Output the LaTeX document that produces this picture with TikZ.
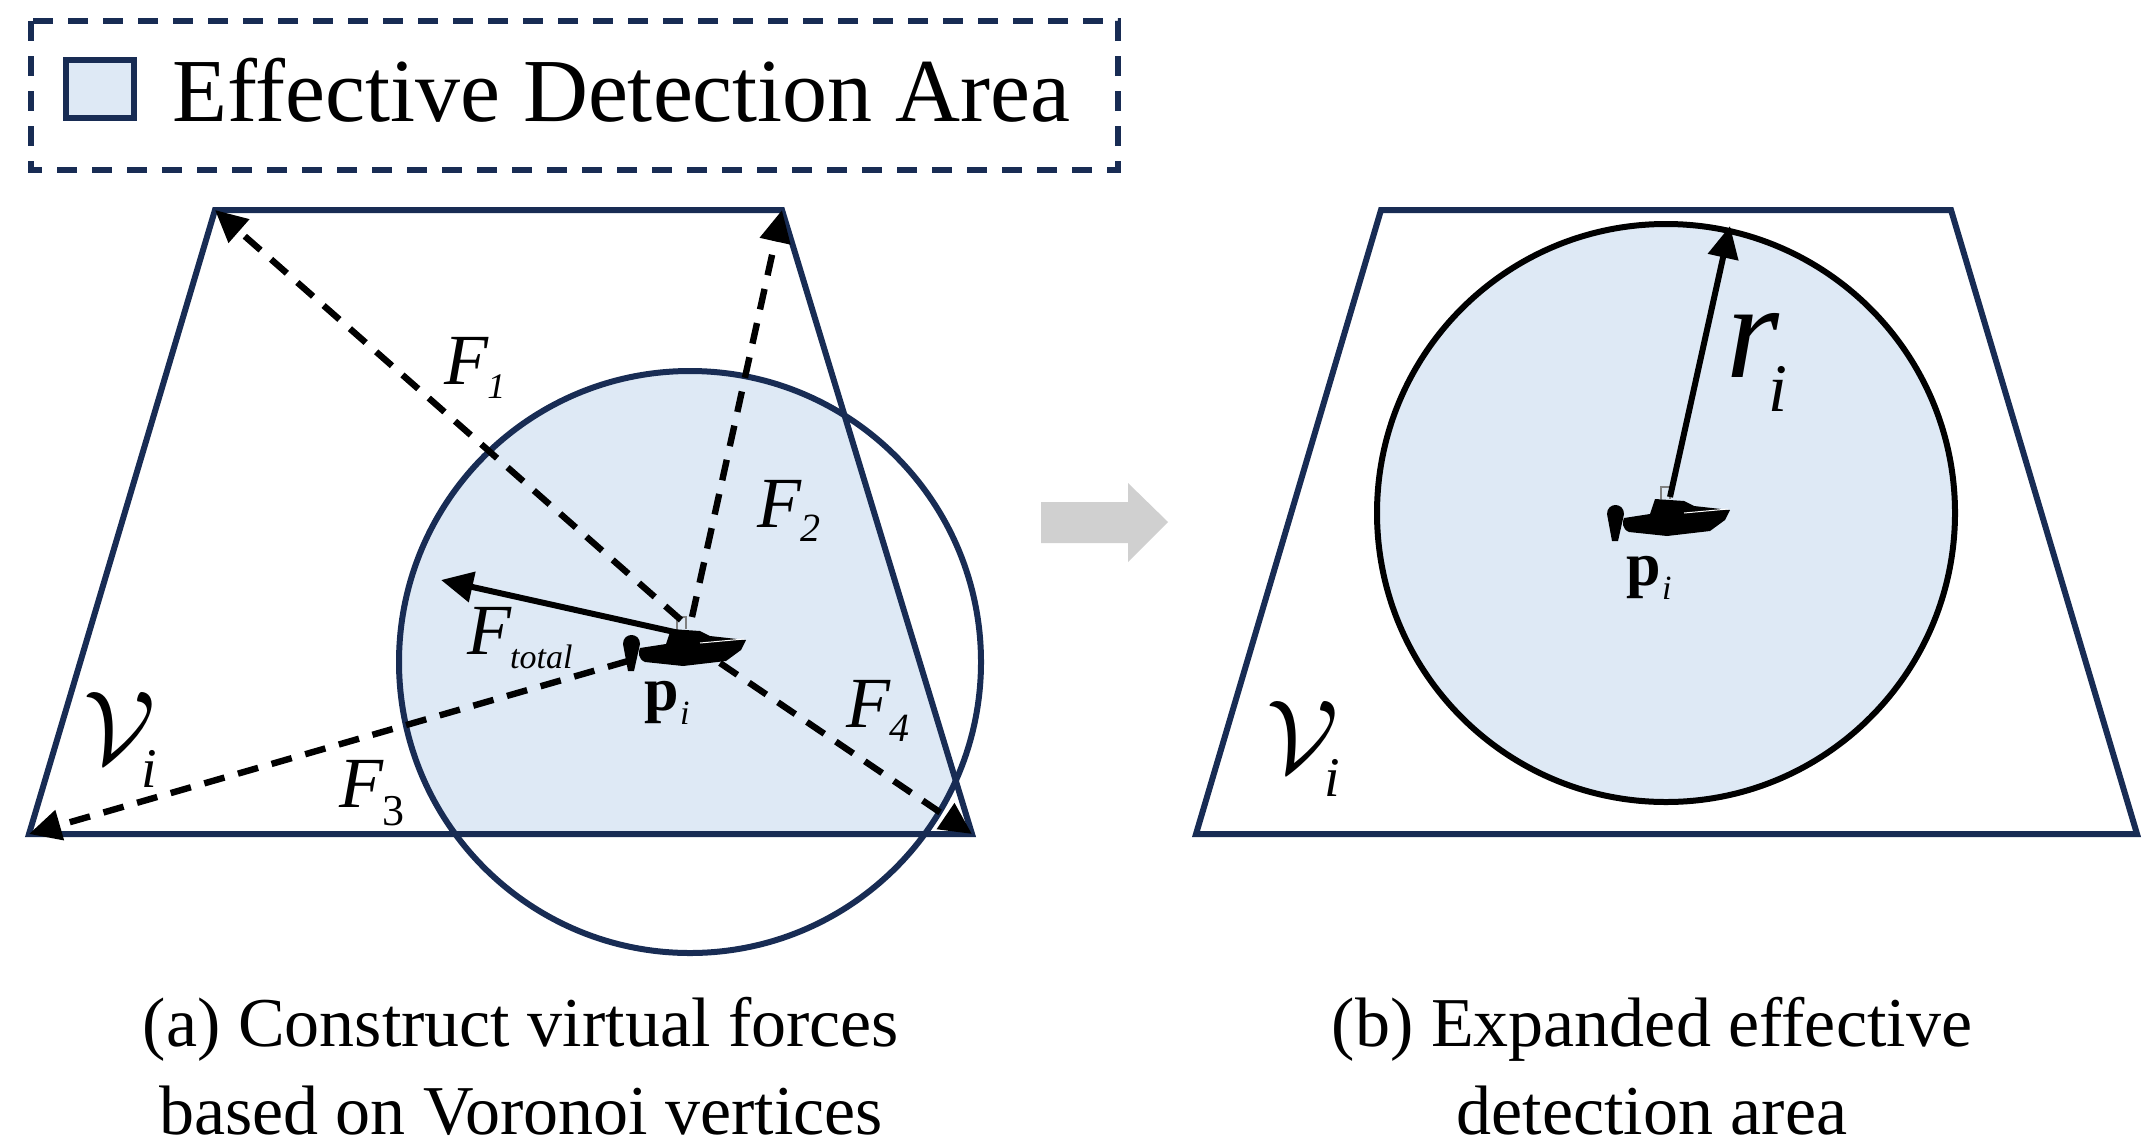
\documentclass[tikz,border=0pt]{standalone}
\usepackage{fontspec}
\setmainfont{Liberation Serif}
\usepackage{amsmath, amssymb}
\usetikzlibrary{arrows.meta, positioning}
\definecolor{voronavy}{RGB}{24, 44, 84}
\definecolor{areablue}{RGB}{222, 233, 245}
\definecolor{shiftgray}{RGB}{208, 208, 208}
\newcommand{\lowsub}[3]{\raisebox{#1}{\fontsize{#2}{#2}\selectfont #3}}
\newcommand{\cellname}{\scalebox{2.09}{\fontsize{24.88pt}{25pt}\selectfont$\mathcal{V}$}\kern-7pt\lowsub{-12pt}{28pt}{\textit{i}}}
\newcommand{\posname}{\fontsize{31pt}{31pt}\selectfont\textbf{p}\kern0.5pt\lowsub{-7pt}{17pt}{\textit{i}}}
\tikzset{
  cell/.style={voronavy, line width=3pt, line join=miter},
  force/.style={-{Triangle[length=16pt, width=15pt]}, black, line width=3.2pt, dash pattern=on 10.5pt off 7pt},
  netforce/.style={-{Triangle[length=16pt, width=15pt]}, black, line width=3pt},
  label/.style={inner sep=0pt, font=\fontsize{36pt}{36pt}\selectfont},
  caption/.style={inner sep=0pt, font=\fontsize{35pt}{35pt}\selectfont},
  boat/.pic={
    \fill[black] (-43,1) -- (-17,-3) -- (-12,-18) -- (17,-16) -- (27,-11) -- (63,-7)
      -- (58,3) -- (43,14) -- (0,19) -- (-38,15) .. controls (-45,12) and (-45,5) .. cycle;
    \fill[black] (-60,-3) .. controls (-60,-15) and (-43,-15) .. (-43,-3)
      -- (-49,24) -- (-55,24) -- cycle;
    \draw[white, line width=0.5pt] (17,-4) -- (61,-8);
    \draw[gray, line width=0.6pt] (-6,-18) -- (-6,-30) -- (3,-30) -- (3,-18);
  }
}

\begin{document}
\begin{tikzpicture}[x=0.5pt, y=-0.5pt]
  \useasboundingbox (0,0) rectangle (2150,1146);

  % Legend
  \draw[voronavy, line width=2.8pt, dash pattern=on 10pt off 7.5pt] (31,21) rectangle (1118,170);
  \node[draw=voronavy, fill=areablue, line width=2.8pt, minimum width=34pt, minimum height=29pt, inner sep=0pt] (swatch) at (100,89) {};
  \node[inner sep=0pt, anchor=west, font=\fontsize{45pt}{45pt}\selectfont] (legendtext) at (172,90) {Effective Detection Area};

  % Left cell
  \coordinate (a1) at (215,210);
  \coordinate (a2) at (782,210);
  \coordinate (a3) at (972,834);
  \coordinate (a4) at (29,834);
  \begin{scope}
    \clip (a1) -- (a2) -- (a3) -- (a4) -- cycle;
    \fill[areablue] (690,662) circle (291);
  \end{scope}
  \draw[cell] (a1) -- (a2) -- (a3) -- (a4) -- cycle;
  \draw[cell] (690,662) circle (291);

  % Forces
  \coordinate (s1) at (681,620);
  \coordinate (s2) at (692,617);
  \coordinate (s3) at (628,661);
  \coordinate (s4) at (720,663);
  \coordinate (st) at (679,633);
  \coordinate (et) at (441,580);
  \pic at (683,647) {boat};
  \draw[force] (s1) -- (a1);
  \draw[force] (s2) -- (a2);
  \draw[force] (s3) -- (a4);
  \draw[force] (s4) -- (a3);
  \draw[netforce] (st) -- (et);

  \node[label] (f1) at (475,368) {\textit{F}\kern-1pt\lowsub{-7pt}{18pt}{\textit{1}}};
  \node[label] (f2) at (789,511) {\textit{F}\kern-1pt\lowsub{-7pt}{20pt}{\textit{2}}};
  \node[label] (f3) at (372,793) {\textit{F}\kern-1pt\lowsub{-9pt}{22pt}{3}};
  \node[label] (f4) at (878,711) {\textit{F}\kern-1pt\lowsub{-7pt}{20pt}{\textit{4}}};
  \node[label] (ftotal) at (520,638) {\textit{F}\kern-1pt\lowsub{-7pt}{17pt}{\textit{total}}};
  \node[inner sep=0pt] (pa) at (667,703) {\posname};
  \node[inner sep=0pt] (va) at (120,740) {\cellname};

  % Shift arrow
  \fill[shiftgray] (1041,502) -- (1128,502) -- (1128,483) -- (1168,522) -- (1128,562) -- (1128,543) -- (1041,543) -- cycle;

  % Right cell
  \coordinate (b1) at (1381,210);
  \coordinate (b2) at (1951,210);
  \coordinate (b3) at (2137,834);
  \coordinate (b4) at (1196,834);
  \draw[cell] (b1) -- (b2) -- (b3) -- (b4) -- cycle;
  \draw[black, fill=areablue, line width=3pt] (1666,513) circle (289);
  \pic at (1667,517) {boat};
  \coordinate (rs) at (1670,497);
  \coordinate (re) at (1730,226);
  \draw[netforce] (rs) -- (re);

  \node[inner sep=0pt] (ri) at (1757,362) {\fontsize{68pt}{68pt}\selectfont\textit{r}\kern-6pt\lowsub{-17pt}{34pt}{\textit{i}}};
  \node[inner sep=0pt] (pb) at (1649,578) {\posname};
  \node[inner sep=0pt] (vb) at (1303,749) {\cellname};

  % Captions
  \node[caption] (capa1) at (521,1029) {(a) Construct virtual forces};
  \node[caption] (capa2) at (521,1111) {based on Voronoi vertices};
  \node[caption] (capb1) at (1652,1029) {(b) Expanded effective};
  \node[caption] (capb2) at (1652,1111) {detection area};
\end{tikzpicture}
\end{document}
